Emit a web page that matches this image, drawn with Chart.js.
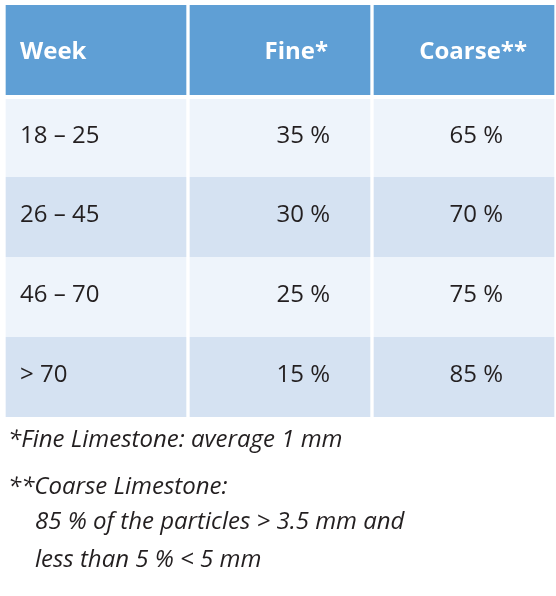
<!DOCTYPE html>
<html><head><meta charset="utf-8">
<script src="https://cdn.jsdelivr.net/npm/chart.js@4/dist/chart.umd.min.js"></script>
<style>html,body{margin:0;padding:0;background:#fff}#c{display:block}</style>
</head><body>
<div style="width:556px;height:596px"><canvas id="c"></canvas></div>
<script>
const columns = ['Week', 'Fine*', 'Coarse**'];
const weeks = ['18 – 25', '26 – 45', '46 – 70', '> 70'];
const fine = ['35 %', '30 %', '25 %', '15 %'];
const coarse = ['65 %', '70 %', '75 %', '85 %'];
const rowEdges = [0, 90, 94, 172, 252, 332, 412];
const footnotes = ['*Fine Limestone: average 1 mm', '**Coarse Limestone:', '85 % of the particles > 3.5 mm and', 'less than 5 % < 5 mm'];

const rowColors = ['#5F9FD5', '#EEF4FB', '#D5E2F2', '#EEF4FB', '#D5E2F2'];
const datasets = [];
datasets.push({data: columns.map(() => [rowEdges[0], rowEdges[1]]), backgroundColor: rowColors[0]});
for (let i = 0; i < weeks.length; i++) {
  datasets.push({data: columns.map(() => [rowEdges[i + 2], rowEdges[i + 3]]), backgroundColor: rowColors[i + 1]});
}
datasets.forEach(d => Object.assign(d, {grouped: false, barPercentage: 1, categoryPercentage: 1,
  borderColor: '#fff', borderWidth: {left: 2, right: 2, top: 0, bottom: 0}, borderSkipped: false}));

const textPlugin = {
  id: 'tableText',
  afterDatasetsDraw(chart) {
    const ctx = chart.ctx, x = chart.scales.x, y = chart.scales.y;
    const font = '"Liberation Sans Narrow", "Open Sans", sans-serif';
    ctx.save();
    ctx.textBaseline = 'middle';
    const L = x.left, R = x.right;
    const leftX = L + 16, fineR = R - 226, coarseR = R - 53;
    const hy = y.getPixelForValue((rowEdges[0] + rowEdges[1]) / 2) + 2;
    ctx.fillStyle = '#fff';
    ctx.font = 'bold 24px ' + font;
    ctx.textAlign = 'left';
    ctx.fillText(columns[0], leftX, hy);
    ctx.textAlign = 'right';
    ctx.fillText(columns[1], fineR - 2, hy);
    ctx.fillText(columns[2], coarseR + 24, hy);
    ctx.fillStyle = '#231F20';
    ctx.font = '24px ' + font;
    for (let i = 0; i < weeks.length; i++) {
      const cy = y.getPixelForValue((rowEdges[i + 2] + rowEdges[i + 3]) / 2) - 2;
      ctx.textAlign = 'left';
      ctx.fillText(weeks[i], leftX, cy);
      ctx.textAlign = 'right';
      ctx.fillText(fine[i], fineR, cy);
      ctx.fillText(coarse[i], coarseR, cy);
    }
    ctx.textAlign = 'left';
    ctx.font = 'italic 24px ' + font;
    const fy = [440, 487, 522, 560], fx = [8, 8, 35, 35];
    footnotes.forEach((t, i) => ctx.fillText(t, fx[i], fy[i]));
    ctx.restore();
  }
};

new Chart(document.getElementById('c'), {
  type: 'bar',
  data: {labels: columns, datasets},
  options: {
    responsive: true, maintainAspectRatio: false, animation: false,
    layout: {padding: {left: 4, top: 5, right: -2, bottom: 596 - 5 - 412}},
    plugins: {legend: {display: false}, tooltip: {enabled: false}},
    scales: {
      x: {display: false, offset: true},
      y: {display: false, min: 0, max: 412, reverse: true}
    }
  },
  plugins: [textPlugin]
});
</script>
</body></html>
